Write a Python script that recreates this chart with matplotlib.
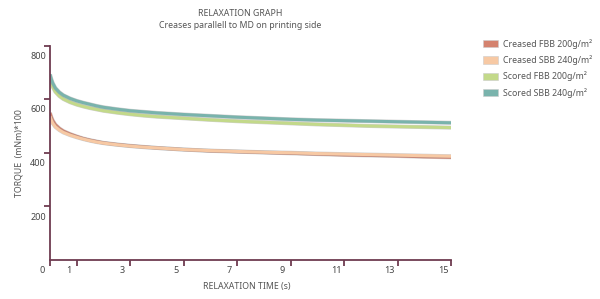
import numpy as np
import matplotlib
matplotlib.use("Agg")
import matplotlib.pyplot as plt
import matplotlib.transforms as mtransforms
import matplotlib.patheffects as pe
from matplotlib.patches import Patch

plt.rcParams['font.family'] = ['Noto Sans', 'DejaVu Sans']

# relaxation time (s)
time_s = [0, 0.05, 0.1, 0.2, 0.35, 0.5, 0.75, 1, 1.25, 1.5, 1.75, 2, 2.5, 3, 3.5, 4,
          5, 6, 7, 8, 9, 10, 11, 12, 13, 14, 15]

# torque (mNm)*100
creased_fbb = [548, 532, 520, 504, 490, 480, 469, 460, 452, 446, 441, 436, 430, 425, 421, 417,
               411, 406, 403, 400, 397, 394, 391, 389, 387, 384, 382]
creased_sbb = [535, 521, 510, 496, 484, 475, 465, 457, 450, 444, 439, 435, 429, 424, 420, 417,
               411, 407, 404, 401, 399, 396, 394, 392, 390, 388, 386]
scored_fbb = [678, 660, 646, 627, 611, 600, 588, 579, 572, 566, 561, 556, 549, 543, 538, 534,
              528, 522, 517, 513, 509, 505, 502, 499, 497, 495, 493]
scored_sbb = [692, 674, 660, 641, 625, 614, 602, 593, 586, 580, 574, 569, 562, 556, 552, 548,
              542, 537, 532, 528, 524, 521, 519, 517, 515, 513, 511]

series_names = ['Creased FBB 200g/m²', 'Creased SBB 240g/m²', 'Scored FBB 200g/m²', 'Scored SBB 240g/m²']
series_colors = ['#d4826e', '#f7c9a4', '#c3d98a', '#79b3ac']

x_ticks = [0, 1, 3, 5, 7, 9, 11, 13, 15]
y_ticks = [200, 400, 600, 800]

axis_color = '#6e3b50'
text_color = '#555555'

fig = plt.figure(figsize=(6.0, 2.99), dpi=100)
ax = fig.add_axes([50 / 600, 1 - 259.5 / 299, 401 / 600, 214 / 299])

all_series = [creased_fbb, creased_sbb, scored_fbb, scored_sbb]
for vals, col in zip(all_series, series_colors):
    ax.plot(time_s, vals, color=col, lw=2.2, solid_capstyle='butt', solid_joinstyle='round',
            path_effects=[pe.Stroke(linewidth=2.9, foreground='#9a9a9a', alpha=0.45), pe.Normal()])

ax.set_xlim(0, 15)
ax.set_ylim(0, 800)

for s in ['top', 'right']:
    ax.spines[s].set_visible(False)
for s in ['left', 'bottom']:
    ax.spines[s].set_color(axis_color)
    ax.spines[s].set_linewidth(1.3)

ax.set_xticks(x_ticks)
ax.set_xticklabels([str(v) for v in x_ticks])
ax.set_yticks(y_ticks)
ax.set_yticklabels([str(v) for v in y_ticks])
ax.tick_params(axis='both', direction='out', length=4, width=1.3, color=axis_color,
               labelsize=6.5, labelcolor='#444444', pad=1)

# labels sit next to their tick marks, not centred on them
dx = mtransforms.ScaledTranslation(-8 / 100, 0, fig.dpi_scale_trans)
for lab in ax.get_xticklabels():
    lab.set_transform(lab.get_transform() + dx)
dy = mtransforms.ScaledTranslation(3 / 100, -10 / 100, fig.dpi_scale_trans)
for lab in ax.get_yticklabels():
    lab.set_transform(lab.get_transform() + dy)

fig.text(240 / 600, 1 - 14 / 299, 'RELAXATION GRAPH', ha='center', va='center',
         fontsize=6.3, color=text_color)
fig.text(240 / 600, 1 - 25 / 299, 'Creases parallell to MD on printing side', ha='center', va='center',
         fontsize=6.3, color=text_color)
fig.text(247 / 600, 1 - 287 / 299, 'RELAXATION TIME (s)', ha='center', va='center',
         fontsize=6.3, color=text_color)
fig.text(19 / 600, 1 - 153 / 299, 'TORQUE  (mNm)*100', ha='center', va='center',
         rotation=90, fontsize=6.3, color=text_color)

handles = [Patch(facecolor=c, edgecolor='#cccccc', linewidth=0.4) for c in series_colors]
fig.legend(handles, series_names, loc='upper left', bbox_to_anchor=(475 / 600, 1 - 31 / 299),
           frameon=False, fontsize=6.3, labelcolor=text_color, handlelength=1.7, handleheight=0.9,
           handletextpad=0.6, labelspacing=0.75)

fig.savefig('out.png', dpi=100)
